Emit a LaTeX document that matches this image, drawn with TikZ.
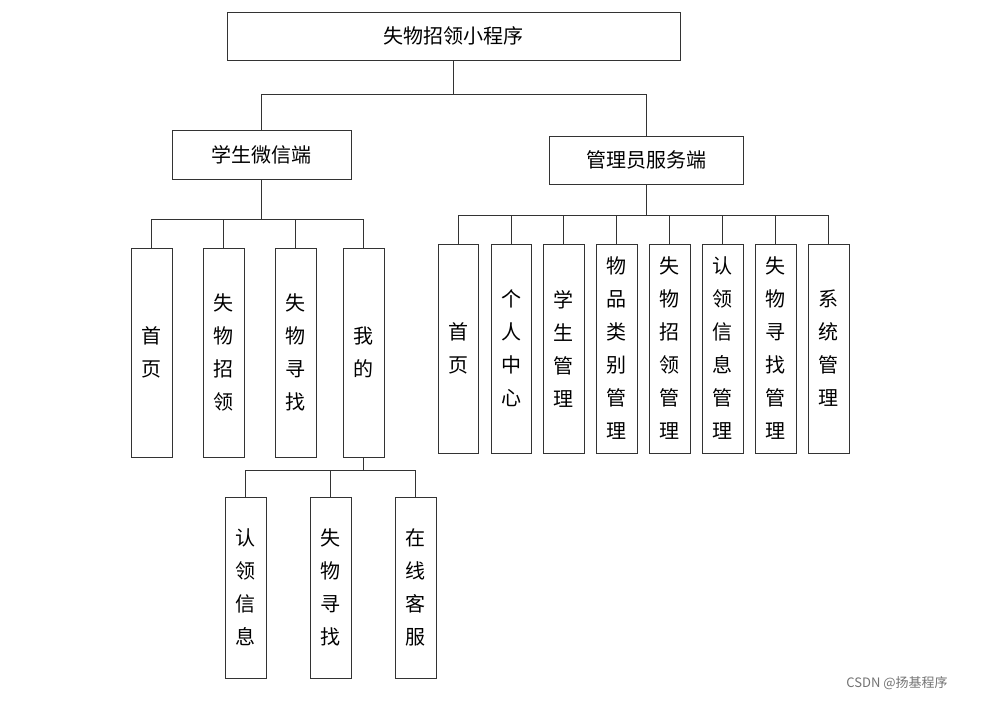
\documentclass[tikz,border=0pt]{standalone}
\usepackage{fontspec}
\setmainfont{Noto Sans CJK SC}
\begin{document}
\begin{tikzpicture}[x=1pt,y=-1pt,
 box/.style={draw=black!80,line width=0.8pt,fill=white,inner sep=0pt,font=\fontsize{20}{33}\selectfont,align=center},
 ln/.style={draw=black!80,line width=0.8pt}]
\useasboundingbox (0,0) rectangle (981,701);
\fill[white] (0,0) rectangle (981,701);
\newcommand\bx[6]{\node[box,minimum width=#4pt,minimum height=#5pt] (#1) at (#2,#3) {#6};}
\bx{t}{453.5}{36}{453}{48}{失物招领小程序}
\bx{s}{261.5}{154.5}{179}{49}{学生微信端}
\bx{a}{646}{160}{194}{48}{管理员服务端}
% student children
\bx{s1}{151.5}{352.5}{41}{209}{首\\页}
\bx{s2}{223.5}{352.5}{41}{209}{失\\物\\招\\领}
\bx{s3}{295.5}{352.5}{41}{209}{失\\物\\寻\\找}
\bx{s4}{363.5}{352.5}{41}{209}{我\\的}
\bx{w1}{245.5}{587.5}{41}{181}{认\\领\\信\\息}
\bx{w2}{330.5}{587.5}{41}{181}{失\\物\\寻\\找}
\bx{w3}{415.5}{587.5}{41}{181}{在\\线\\客\\服}
% admin children
\bx{a1}{458}{348.5}{40}{209}{首\\页}
\bx{a2}{511}{348.5}{40}{209}{个\\人\\中\\心}
\bx{a3}{563.5}{348.5}{41}{209}{学\\生\\管\\理}
\bx{a4}{616.5}{348.5}{41}{209}{物\\品\\类\\别\\管\\理}
\bx{a5}{669.5}{348.5}{41}{209}{失\\物\\招\\领\\管\\理}
\bx{a6}{722.5}{348.5}{41}{209}{认\\领\\信\\息\\管\\理}
\bx{a7}{775.5}{348.5}{41}{209}{失\\物\\寻\\找\\管\\理}
\bx{a8}{828.5}{348.5}{41}{209}{系\\统\\管\\理}
% connectors
\draw[ln] (t.south) -- ++(0,34) coordinate (tb);
\draw[ln] (s.north) |- (tb) -| (a.north);
\draw[ln] (s.south) -- ++(0,40) coordinate (sb);
\foreach \n in {s1,s2,s3,s4} \draw[ln] (\n.north) |- (sb);
\draw[ln] (s4.south) -- ++(0,13) coordinate (wb);
\foreach \n in {w1,w2,w3} \draw[ln] (\n.north) |- (wb);
\draw[ln] (a.south) -- ++(0,31) coordinate (ab);
\foreach \n in {a1,a2,a3,a4,a5,a6,a7,a8} \draw[ln] (\n.north) |- (ab);
\node[text=black!55,font=\fontsize{13}{15}\selectfont] (wm) at (897,683) {CSDN @扬基程序};
\end{tikzpicture}
\end{document}
